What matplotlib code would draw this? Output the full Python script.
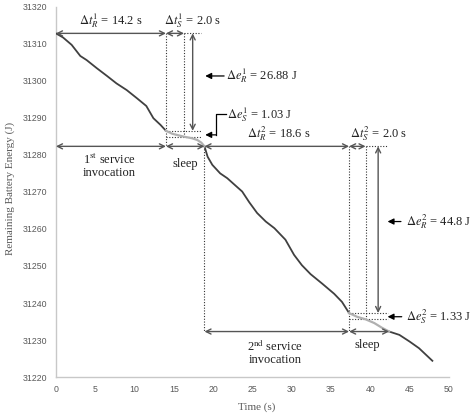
import matplotlib
matplotlib.use('Agg')
import matplotlib.pyplot as plt

# Curve (time in s, energy in J)
run1_t = [0, 0.9, 2.0, 3.1, 3.9, 5.2, 6.5, 7.7, 9.0, 10.3, 11.5, 12.4, 13.3, 14.0]
run1_e = [31312.8, 31311.7, 31309.7, 31306.7, 31305.6, 31303.4, 31301.3, 31299.3,
          31297.5, 31295.3, 31293.2, 31289.9, 31288.1, 31286.5]
sleep1_t = [14.0, 14.8, 16.3, 17.3, 18.0, 18.5, 18.9]
sleep1_e = [31286.5, 31285.7, 31284.9, 31284.5, 31284.0, 31283.3, 31282.3]
run2_t = [18.9, 19.3, 19.9, 20.9, 21.8, 22.8, 23.7, 24.6, 25.6, 26.7, 27.8, 29.2,
          30.3, 31.3, 32.4, 33.9, 35.4, 36.4, 37.3]
run2_e = [31282.3, 31279.5, 31277.3, 31275.0, 31273.7, 31271.8, 31270.1, 31267.2,
          31264.3, 31262.0, 31260.2, 31257.1, 31253.0, 31250.2, 31247.8, 31245.2,
          31242.5, 31240.3, 31237.3]
sleep2_t = [37.3, 38.3, 39.4, 40.5, 41.5, 42.4]
sleep2_e = [31237.3, 31236.3, 31235.6, 31234.6, 31233.3, 31232.3]
run3_t = [42.4, 43.7, 45.0, 46.2, 47.9]
run3_e = [31232.3, 31231.4, 31229.6, 31227.8, 31224.4]

x_ticks = [0, 5, 10, 15, 20, 25, 30, 35, 40, 45, 50]
y_ticks = [31220, 31230, 31240, 31250, 31260, 31270, 31280, 31290, 31300, 31310, 31320]

plt.rcParams['mathtext.fontset'] = 'stix'
serif = 'Liberation Serif'

fig = plt.figure(figsize=(4.74, 4.19), dpi=100)
ax = fig.add_axes([0.118, 0.100, 0.829, 0.884])

# curve: dark for service runs, light gray for sleep
for t, e in [(run1_t, run1_e), (run2_t, run2_e), (run3_t, run3_e)]:
    ax.plot(t, e, color='#404040', lw=1.3, zorder=3)
for t, e in [(sleep1_t, sleep1_e), (sleep2_t, sleep2_e)]:
    ax.plot(t, e, color='#b0b0b0', lw=1.6, zorder=3)

ax.set_xlim(0, 50)
ax.set_ylim(31220, 31320)
ax.set_xticks(x_ticks)
ax.set_yticks(y_ticks)
for s in ['top', 'right']:
    ax.spines[s].set_visible(False)
for s in ['left', 'bottom']:
    ax.spines[s].set_color('#c8c8c8')
    ax.spines[s].set_linewidth(1.0)
ax.tick_params(length=0, labelsize=6.3, labelcolor='#595959', pad=6)
for lab in ax.get_xticklabels() + ax.get_yticklabels():
    lab.set_family('Liberation Sans')
fig.text(257 / 474, 1 - 407 / 419, 'Time (s)', family=serif, fontsize=8, color='#595959',
         ha='center', va='center')
fig.text(10 / 474, 1 - 188 / 419, 'Remaining Battery Energy (J)', family=serif, fontsize=8,
         color='#595959', rotation=90, ha='center', va='center')

# key levels and times
t_r1, t_s1, t_e1 = run1_t[-1], 16.3, sleep1_t[-1]
t_r2, t_s2, t_e2 = run2_t[-1], 39.4, sleep2_t[-1]
e0, e1, e1s, e1e = run1_e[0], run1_e[-1], 31284.9, sleep1_e[-1]
e2, e2s, e2e = run2_e[-1], 31235.6, sleep2_e[-1]

acol = '#555555'
dot = dict(color='#333333', lw=0.8, ls=(0, (1, 1.5)), zorder=2)


def dim(x0, y0, x1, y1):
    ax.annotate('', xy=(x1, y1), xytext=(x0, y0),
                arrowprops=dict(arrowstyle='<->', color=acol, lw=1.0,
                                shrinkA=0, shrinkB=0, mutation_scale=9),
                annotation_clip=False, zorder=4)


def pointer(x_tip, y, x_tail):
    ax.annotate('', xy=(x_tip, y), xytext=(x_tail, y),
                arrowprops=dict(arrowstyle='-|>', color='black', lw=0.9,
                                shrinkA=0, shrinkB=0, mutation_scale=9),
                annotation_clip=False, zorder=4)


tfont = dict(family=serif, fontsize=9, color='#222222')

# first service run
dim(0, e0, t_r1, e0)
dim(t_r1, e0, t_s1, e0)
ax.plot([t_s1, 18.5], [e0, e0], **dot)
ax.plot([t_r1, t_r1], [e0, e1e], **dot)
ax.plot([t_s1, t_s1], [e0, e1s], **dot)
ax.plot([t_r1, 18.5], [e1, e1], **dot)
ax.plot([t_r1, 18.5], [e1s, e1s], **dot)
dim(17.4, e0, 17.4, e1)
ax.text(7.0, 31316.3, r'$\Delta t_R^1$ = 14.2 s', ha='center', va='center', **tfont)
ax.text(17.4, 31316.3, r'$\Delta t_S^1$ = 2.0 s', ha='center', va='center', **tfont)
pointer(19.0, 31301.3, 21.4)
ax.text(21.7, 31301.3, r'$\Delta e_R^1$ = 26.88 J', ha='left', va='center', **tfont)
ax.plot([21.7, 20.4, 20.4], [31290.9, 31290.9, 31285.4], color='black', lw=0.9, zorder=4)
pointer(19.0, 31285.4, 20.4)
ax.text(21.8, 31290.9, r'$\Delta e_S^1$ = 1.03 J', ha='left', va='center', **tfont)

# first invocation / second run arrows
dim(0, e1e, t_r1, e1e)
dim(t_r1, e1e, t_e1, e1e)
dim(t_e1, e1e, t_r2, e1e)
dim(t_r2, e1e, t_s2, e1e)
ax.plot([t_s2, 42.2], [e1e, e1e], **dot)
ax.text(6.8, 31277.0, r'1$^{\mathrm{st}}$ service' + '\ninvocation', ha='center', va='center',
        linespacing=1.0, **tfont)
ax.text(16.4, 31277.6, 'sleep', ha='center', va='center', **tfont)
ax.text(28.3, 31285.6, r'$\Delta t_R^2$ = 18.6 s', ha='center', va='center', **tfont)
ax.text(41.0, 31285.6, r'$\Delta t_S^2$ = 2.0 s', ha='center', va='center', **tfont)

# second service run
ax.plot([t_e1, t_e1], [e1e, e2e], **dot)
ax.plot([t_r2, t_r2], [e1e, e2e], **dot)
ax.plot([t_s2, t_s2], [e1e, e2s], **dot)
ax.plot([t_r2, 42.2], [e2, e2], **dot)
ax.plot([t_r2, 42.2], [e2s, e2s], **dot)
dim(41.0, e1e, 41.0, e2)
pointer(42.2, 31262.0, 43.9)
ax.text(44.6, 31262.0, r'$\Delta e_R^2$ = 44.8 J', ha='left', va='center', **tfont)
pointer(42.2, 31236.3, 44.0)
ax.text(44.6, 31236.3, r'$\Delta e_S^2$ = 1.33 J', ha='left', va='center', **tfont)

dim(t_e1, e2e, t_r2, e2e)
dim(t_r2, e2e, t_e2, e2e)
ax.text(27.9, 31226.8, r'2$^{\mathrm{nd}}$ service' + '\ninvocation', ha='center', va='center',
        linespacing=1.0, **tfont)
ax.text(39.6, 31228.6, 'sleep', ha='center', va='center', **tfont)

fig.savefig('out.png', dpi=100)
